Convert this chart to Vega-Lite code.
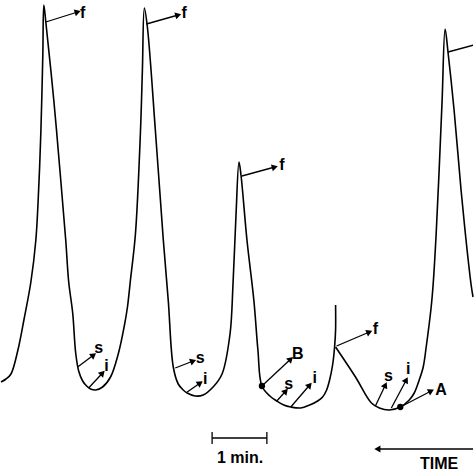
{
  "$schema": "https://vega.github.io/schema/vega-lite/v6.json",
  "width": 474,
  "height": 474,
  "padding": 0,
  "autosize": {"type": "fit", "contains": "padding"},
  "background": "white",
  "config": {"view": {"stroke": null}},
  "datasets": {
    "curve": [
      {"s":"a","k":0,"x":0,"y":382},{"s":"a","k":1,"x":5,"y":379},{"s":"a","k":2,"x":10,"y":374},{"s":"a","k":3,"x":17,"y":350},{"s":"a","k":4,"x":23,"y":320},
      {"s":"a","k":5,"x":30,"y":282},{"s":"a","k":6,"x":35,"y":240},{"s":"a","k":7,"x":38,"y":185},{"s":"a","k":8,"x":40,"y":133},{"s":"a","k":9,"x":42,"y":55},
      {"s":"a","k":10,"x":43,"y":5},{"s":"a","k":11,"x":45,"y":22},{"s":"a","k":12,"x":53,"y":100},{"s":"a","k":13,"x":60,"y":180},{"s":"a","k":14,"x":65,"y":240},
      {"s":"a","k":15,"x":68,"y":282},{"s":"a","k":16,"x":72,"y":313},{"s":"a","k":17,"x":75,"y":353},{"s":"a","k":18,"x":78,"y":371},{"s":"a","k":19,"x":82,"y":381},
      {"s":"a","k":20,"x":86,"y":386},{"s":"a","k":21,"x":90,"y":389},{"s":"a","k":22,"x":95,"y":390},{"s":"a","k":23,"x":102,"y":387},{"s":"a","k":24,"x":110,"y":377},
      {"s":"a","k":25,"x":118,"y":353},{"s":"a","k":26,"x":124,"y":325},{"s":"a","k":27,"x":127,"y":307},{"s":"a","k":28,"x":130,"y":280},{"s":"a","k":29,"x":135,"y":234},
      {"s":"a","k":30,"x":140,"y":133},{"s":"a","k":31,"x":142,"y":70},{"s":"a","k":32,"x":144,"y":8},{"s":"a","k":33,"x":147,"y":27},{"s":"a","k":34,"x":155,"y":130},
      {"s":"a","k":35,"x":163,"y":240},{"s":"a","k":36,"x":168,"y":301},{"s":"a","k":37,"x":173,"y":367},{"s":"a","k":38,"x":178,"y":384},{"s":"a","k":39,"x":183,"y":390},
      {"s":"a","k":40,"x":187,"y":393},{"s":"a","k":41,"x":195,"y":396},{"s":"a","k":42,"x":203,"y":395},{"s":"a","k":43,"x":213,"y":387},{"s":"a","k":44,"x":222,"y":374},
      {"s":"a","k":45,"x":230,"y":334},{"s":"a","k":46,"x":233,"y":284},{"s":"a","k":47,"x":236,"y":215},{"s":"a","k":48,"x":239,"y":162},{"s":"a","k":49,"x":241,"y":175},
      {"s":"a","k":50,"x":247,"y":240},{"s":"a","k":51,"x":254,"y":301},{"s":"a","k":52,"x":258,"y":350},{"s":"a","k":53,"x":262,"y":386},{"s":"a","k":54,"x":270,"y":396},
      {"s":"a","k":55,"x":277,"y":401},{"s":"a","k":56,"x":284,"y":405},{"s":"a","k":57,"x":291,"y":407},{"s":"a","k":58,"x":301,"y":408},{"s":"a","k":59,"x":310,"y":405},
      {"s":"a","k":60,"x":318,"y":401},{"s":"a","k":61,"x":323,"y":397},{"s":"a","k":62,"x":327,"y":390},{"s":"a","k":63,"x":330,"y":380},{"s":"a","k":64,"x":333,"y":365},
      {"s":"a","k":65,"x":335,"y":347},{"s":"a","k":66,"x":336,"y":330},{"s":"a","k":67,"x":336,"y":305},
      {"s":"b","k":68,"x":336,"y":347},{"s":"b","k":69,"x":356,"y":377},{"s":"b","k":70,"x":372,"y":403},
      {"s":"b","k":71,"x":380,"y":408},{"s":"b","k":72,"x":390,"y":410},{"s":"b","k":73,"x":401,"y":407},{"s":"b","k":74,"x":410,"y":400},{"s":"b","k":75,"x":415,"y":393},
      {"s":"b","k":76,"x":420,"y":380},{"s":"b","k":77,"x":424,"y":367},{"s":"b","k":78,"x":427,"y":347},{"s":"b","k":79,"x":432,"y":307},{"s":"b","k":80,"x":434,"y":284},
      {"s":"b","k":81,"x":437,"y":234},{"s":"b","k":82,"x":440,"y":170},{"s":"b","k":83,"x":443,"y":100},{"s":"b","k":84,"x":446,"y":29},{"s":"b","k":85,"x":449,"y":53},
      {"s":"b","k":86,"x":455,"y":110},{"s":"b","k":87,"x":462,"y":190},{"s":"b","k":88,"x":467,"y":240},{"s":"b","k":89,"x":472,"y":284},{"s":"b","k":90,"x":474,"y":297}
    ],
    "arrows": [
      {"x":45,"y":22,"x2":77,"y2":12},
      {"x":146,"y":24,"x2":178,"y2":15},
      {"x":242,"y":176,"x2":275,"y2":167},
      {"x":449,"y":52,"x2":490,"y2":41},
      {"x":337,"y":346,"x2":370,"y2":332},
      {"x":77,"y":367,"x2":93,"y2":355},
      {"x":88,"y":388,"x2":102,"y2":373},
      {"x":175,"y":368,"x2":193,"y2":361},
      {"x":187,"y":392,"x2":200,"y2":383},
      {"x":262,"y":386,"x2":291,"y2":359},
      {"x":277,"y":401,"x2":286,"y2":391},
      {"x":291,"y":407,"x2":310,"y2":385},
      {"x":376,"y":406,"x2":386,"y2":385},
      {"x":392,"y":408,"x2":407,"y2":380},
      {"x":401,"y":407,"x2":432,"y2":391},
      {"x":474,"y":449,"x2":378,"y2":449}
    ],
    "bars": [
      {"x":212,"y":438,"x2":267,"y2":438},
      {"x":212,"y":432,"x2":212,"y2":444},
      {"x":267,"y":432,"x2":267,"y2":444}
    ],
    "labels": [
      {"x":82,"y":13,"t":"f"},
      {"x":184,"y":13,"t":"f"},
      {"x":282,"y":165,"t":"f"},
      {"x":376,"y":329,"t":"f"},
      {"x":98,"y":348,"t":"s"},
      {"x":106,"y":366,"t":"i"},
      {"x":200,"y":358,"t":"s"},
      {"x":205,"y":379,"t":"i"},
      {"x":298,"y":354,"t":"B"},
      {"x":289,"y":384,"t":"s"},
      {"x":315,"y":378,"t":"i"},
      {"x":389,"y":376,"t":"s"},
      {"x":409,"y":369,"t":"i"},
      {"x":442,"y":390,"t":"A"},
      {"x":240,"y":458,"t":"1 min."},
      {"x":440,"y":464,"t":"TIME"}
    ],
    "dots": [
      {"x":262,"y":386},
      {"x":401,"y":407}
    ]
  },
  "encoding": {
    "x": {"field": "x", "type": "quantitative", "axis": null, "scale": {"domain": [0, 474], "nice": false, "zero": false}},
    "y": {"field": "y", "type": "quantitative", "axis": null, "scale": {"domain": [0, 474], "nice": false, "zero": false, "reverse": true}}
  },
  "layer": [
    {
      "data": {"name": "curve"},
      "mark": {"type": "line", "color": "black", "strokeWidth": 1.6, "strokeJoin": "round", "interpolate": "catmull-rom"},
      "encoding": {"order": {"field": "k", "type": "quantitative"}, "detail": {"field": "s", "type": "nominal"}}
    },
    {
      "data": {"name": "arrows"},
      "mark": {"type": "rule", "color": "black", "strokeWidth": 1.3, "clip": true},
      "encoding": {"x2": {"field": "x2"}, "y2": {"field": "y2"}}
    },
    {
      "data": {"name": "arrows"},
      "transform": [{"calculate": "atan2(datum.y2 - datum.y, datum.x2 - datum.x) * 180 / PI", "as": "ang"}],
      "mark": {"type": "point", "shape": "triangle-right", "filled": true, "color": "black", "opacity": 1, "size": 50, "clip": true},
      "encoding": {
        "x": {"field": "x2", "type": "quantitative"},
        "y": {"field": "y2", "type": "quantitative"},
        "angle": {"field": "ang", "type": "quantitative", "scale": null}
      }
    },
    {
      "data": {"name": "bars"},
      "mark": {"type": "rule", "color": "black", "strokeWidth": 1.3},
      "encoding": {"x2": {"field": "x2"}, "y2": {"field": "y2"}}
    },
    {
      "data": {"name": "dots"},
      "mark": {"type": "point", "shape": "circle", "filled": true, "color": "black", "opacity": 1, "size": 40}
    },
    {
      "data": {"name": "labels"},
      "mark": {"type": "text", "font": "Liberation Sans", "fontWeight": "bold", "fontSize": 16, "align": "center", "baseline": "middle", "color": "black"},
      "encoding": {"text": {"field": "t"}}
    }
  ]
}
